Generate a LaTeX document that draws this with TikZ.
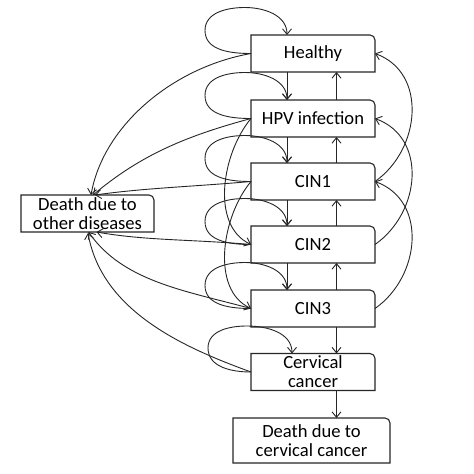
\documentclass[tikz,border=0pt]{standalone}
\usepackage{fontspec}
\setmainfont{Carlito}
\usetikzlibrary{arrows.meta,calc}
\newcommand{\boxoutline}[1]{\draw[outl] (#1.south west) -- (#1.north west) -- ([xshift=-5pt]#1.north east) arc[start angle=90,end angle=0,radius=5pt] -- (#1.south east) -- cycle;}
\newcommand{\selfloop}[2]{\draw[conn] (#1.west) to[out=180,in=-90] ++(-46,23) to[out=90,in=180] ++(40,23) to[out=0,in=90] (#1.north -| #2);}
\begin{document}
\begin{tikzpicture}[x=1pt,y=1pt,
  stbox/.style={minimum width=124pt,minimum height=37pt,inner sep=0pt,outer sep=0pt,align=center,font=\fontsize{18.6}{19}\selectfont},
  conn/.style={line width=0.9pt,draw=black!85,-{Straight Barb[length=5.5pt,width=9pt]}},
  outl/.style={line width=1.1pt,draw=black!85,fill=white}]
\useasboundingbox (0,0) rectangle (474,-474);
\coordinate (cl) at (287,0);
\coordinate (cl2) at (292,0);
\coordinate (cr) at (336.5,0);
% nodes
\node[stbox] (healthy) at (313,-53.5) {};
\node[stbox] (hpv) at (313,-118.5) {};
\node[stbox] (cin1) at (313,-181.5) {};
\node[stbox] (cin2) at (313,-244.5) {};
\node[stbox] (cin3) at (313,-308.5) {};
\node[stbox] (cc) at (313,-372) {};
\node[stbox,minimum width=157pt,minimum height=45pt] (dcc) at (311.5,-440.5) {};
\node[stbox,minimum width=133pt] (dod) at (87.5,-213.5) {};
\foreach \n in {healthy,hpv,cin1,cin2,cin3,cc,dcc,dod}{\boxoutline{\n}}
\node[stbox] at (healthy) {Healthy};
\node[stbox] at (hpv) {HPV infection};
\node[stbox] at (cin1) {CIN1};
\node[stbox] at (cin2) {CIN2};
\node[stbox] at (cin3) {CIN3};
\node[stbox] at (cc) {Cervical\\cancer};
\node[stbox] at (dcc) {Death due to\\cervical cancer};
\node[stbox] at (dod) {Death due to\\other diseases};
% straight arrows
\draw[conn] (healthy.south -| cl) -- (hpv.north -| cl);
\draw[conn] (hpv.south -| cl) -- (cin1.north -| cl);
\draw[conn] (cin1.south -| cl) -- (cin2.north -| cl);
\draw[conn] (cin2.south -| cl) -- (cin3.north -| cl);
\draw[conn] (hpv.north -| cr) -- (healthy.south -| cr);
\draw[conn] (cin1.north -| cr) -- (hpv.south -| cr);
\draw[conn] (cin2.north -| cr) -- (cin1.south -| cr);
\draw[conn] (cin3.north -| cr) -- (cin2.south -| cr);
\draw[conn] (cin3.south -| cr) -- (cc.north -| cr);
\draw[conn] (cc.south -| cr) -- (dcc.north -| cr);
% self loops
\selfloop{healthy}{cl}
\selfloop{hpv}{cl}
\selfloop{cin1}{cl}
\selfloop{cin2}{cl}
\selfloop{cin3}{cl}
\draw[conn] (cc.west) to[out=180,in=-90] ++(-43,24) to[out=90,in=180] ++(39,22) to[out=0,in=90] (cc.north -| cl2);
% to death due to other diseases
\draw[conn] (healthy.west) .. controls +(190:80) and +(80:70) .. ($(dod.north)+(3.5,0)$);
\draw[conn] (hpv.west) .. controls +(195:70) and +(40:60) .. ($(dod.north)+(5.5,0)$);
\draw[conn] (cin1.west) .. controls +(185:60) and +(8:50) .. ($(dod.north)+(7.5,0)$);
\draw[conn] (cin2.west) .. controls +(175:60) and +(-10:50) .. ($(dod.south)+(9,0)$);
\draw[conn] (cin3.west) .. controls +(165:70) and +(-55:60) .. ($(dod.south)+(1,0)$);
\draw[conn] (cc.west) .. controls +(160:70) and +(-80:80) .. ($(dod.south)+(0.5,-1)$);
% skip progressions (left)
\draw[conn] (hpv.west) .. controls +(-130:45) and +(155:45) .. (cin2.west);
\draw[conn] (cin1.west) .. controls +(-130:45) and +(155:45) .. (cin3.west);
% skip regressions (right)
\draw[conn] (cin1.east) .. controls +(35:56) and +(-20:56) .. (healthy.east);
\draw[conn] (cin2.east) .. controls +(35:56) and +(-20:56) .. (hpv.east);
\draw[conn] (cin3.east) .. controls +(35:56) and +(-20:56) .. (cin1.east);
\end{tikzpicture}
\end{document}
